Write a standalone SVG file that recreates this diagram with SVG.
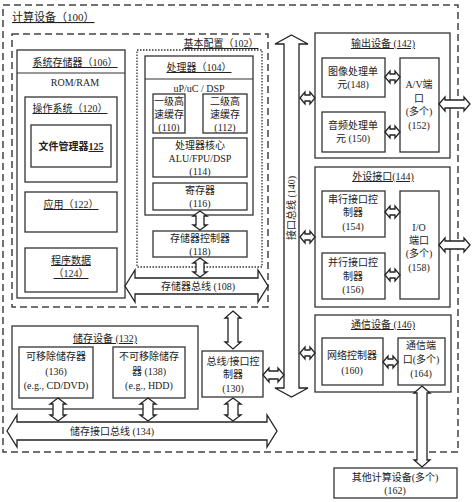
<svg xmlns="http://www.w3.org/2000/svg" width="474" height="502" viewBox="0 0 474 502">
<style>
text{font-family:"Liberation Serif","Noto Sans CJK SC",serif;font-size:10px;fill:#222;text-anchor:middle}
.u{text-decoration:underline}
.box{fill:#fff;stroke:#333;stroke-width:1.3}
.dash{fill:none;stroke:#444;stroke-width:1.5;stroke-dasharray:7,4}
.dot{fill:none;stroke:#333;stroke-width:1.3;stroke-dasharray:1.5,1.5}
.arr{fill:#fff;stroke:#222;stroke-width:1.3;stroke-linejoin:miter}
</style>
<rect width="474" height="502" fill="#fff"/>
<g id="n100">
<rect class="dash" x="3" y="5" width="455" height="447"/>
<text class="u" x="12" y="21" style="text-anchor:start;font-size:11px">计算设备（100）</text>
</g>
<g id="n102">
<rect class="dash" x="12" y="34" width="256" height="273"/>
<text class="u" x="221" y="47">基本配置（102）</text>
</g>
<g id="n106">
<rect class="box" x="17" y="50" width="108" height="248"/>
<line x1="17" y1="73" x2="125" y2="73" stroke="#333" stroke-width="1.2"/>
<text class="u" x="75" y="66">系统存储器（106）</text>
<text x="75" y="86">ROM/RAM</text>
</g>
<g id="n120">
<rect class="box" x="25" y="97" width="92" height="85"/>
<text class="u" x="70" y="112">操作系统（120）</text>
</g>
<g id="n125">
<rect class="box" x="31" y="125" width="80" height="42"/>
<text x="71" y="150" style="font-weight:bold">文件管理器<tspan class="u">125</tspan></text>
</g>
<g id="n122">
<rect class="box" x="25" y="192" width="92" height="40"/>
<text class="u" x="71" y="208">应用（122）</text>
</g>
<g id="n124">
<rect class="box" x="25" y="248" width="92" height="44"/>
<text class="u" x="71" y="264">程序数据</text>
<text class="u" x="71" y="277">（124）</text>
</g>
<g id="cpuarea">
<rect class="dot" x="137" y="50" width="125" height="217"/>
</g>
<g id="n104">
<rect class="box" x="145" y="56" width="108" height="159"/>
<line x1="145" y1="79" x2="253" y2="79" stroke="#333" stroke-width="1.2"/>
<text class="u" x="199" y="71">处理器（104）</text>
<text x="199" y="92">uP/uC / DSP</text>
</g>
<g id="n110">
<rect class="box" x="153" y="94" width="32" height="39"/>
<text x="169" y="105">一级高</text>
<text x="169" y="118">速缓存</text>
<text x="169" y="131">(110)</text>
</g>
<g id="n112">
<rect class="box" x="203" y="94" width="44" height="39"/>
<text x="225" y="105">二级高</text>
<text x="225" y="118">速缓存</text>
<text x="225" y="131">(112)</text>
</g>
<g id="n114">
<rect class="box" x="153" y="138" width="94" height="39"/>
<text x="200" y="149">处理器核心</text>
<text x="200" y="162">ALU/FPU/DSP</text>
<text x="200" y="175">(114)</text>
</g>
<g id="n116">
<rect class="box" x="153" y="183" width="94" height="27"/>
<text x="200" y="194">寄存器</text>
<text x="200" y="207">(116)</text>
</g>
<g id="n118">
<rect class="box" x="153" y="231" width="94" height="26"/>
<text x="200" y="242">存储器控制器</text>
<text x="200" y="255">(118)</text>
</g>
<g id="n142">
<rect class="box" x="315" y="33" width="135" height="125"/>
<text class="u" x="383" y="47">输出设备 (142)</text>
</g>
<g id="n148">
<rect class="box" x="322" y="58" width="63" height="39"/>
<text x="353" y="75">图像处理单</text>
<text x="353" y="88">元(148)</text>
</g>
<g id="n150">
<rect class="box" x="322" y="112" width="63" height="40"/>
<text x="353" y="129">音频处理单</text>
<text x="353" y="142">元 (150)</text>
</g>
<g id="n152">
<rect class="box" x="400" y="58" width="39" height="94"/>
<text x="419" y="88">A/V端</text>
<text x="419" y="102">口</text>
<text x="419" y="115">(多个)</text>
<text x="419" y="129">(152)</text>
</g>
<g id="n144">
<rect class="box" x="315" y="167" width="135" height="140"/>
<text class="u" x="383" y="180">外设接口(144)</text>
</g>
<g id="n154">
<rect class="box" x="322" y="191" width="63" height="46"/>
<text x="353" y="203">串行接口控</text>
<text x="353" y="216">制器</text>
<text x="353" y="230">(154)</text>
</g>
<g id="n156">
<rect class="box" x="322" y="253" width="63" height="46"/>
<text x="353" y="266">并行接口控</text>
<text x="353" y="280">制器</text>
<text x="353" y="293">(156)</text>
</g>
<g id="n158">
<rect class="box" x="400" y="191" width="39" height="108"/>
<text x="419" y="231">I/O</text>
<text x="419" y="244">端口</text>
<text x="419" y="257">(多个)</text>
<text x="419" y="271">(158)</text>
</g>
<g id="n146">
<rect class="box" x="315" y="315" width="136" height="77"/>
<text class="u" x="383" y="328">通信设备 (146)</text>
</g>
<g id="n160">
<rect class="box" x="322" y="338" width="61" height="47"/>
<text x="352" y="359">网络控制器</text>
<text x="352" y="374">(160)</text>
</g>
<g id="n164">
<rect class="box" x="398" y="338" width="47" height="47"/>
<text x="421" y="349">通信端</text>
<text x="421" y="363">口(多个)</text>
<text x="421" y="377">(164)</text>
</g>
<g id="n162">
<rect class="box" x="334" y="468" width="123" height="30"/>
<text x="395" y="481">其他计算设备(多个)</text>
<text x="395" y="494">(162)</text>
</g>
<g id="n132">
<rect class="box" x="12" y="326" width="186" height="83"/>
<text class="u" x="105" y="342">储存设备 (132)</text>
</g>
<g id="n136">
<rect class="box" x="19" y="347" width="74" height="51"/>
<text x="56" y="360">可移除储存器</text>
<text x="56" y="375">(136)</text>
<text x="56" y="389">(e.g., CD/DVD)</text>
</g>
<g id="n138">
<rect class="box" x="113" y="347" width="72" height="51"/>
<text x="149" y="360">不可移除储存</text>
<text x="149" y="375">器 (138)</text>
<text x="149" y="389">(e.g., HDD)</text>
</g>
<g id="n130">
<rect class="box" x="202" y="351" width="61" height="46"/>
<text x="233" y="365">总线/接口控</text>
<text x="233" y="378">制器</text>
<text x="233" y="392">(130)</text>
</g>
<g id="connectors">
<!-- memory bus 108 -->
<polygon class="arr" points="125,286 135,270 135,278 258,278 258,270 268,286 258,302 258,294 135,294 135,302"/>
<text x="198" y="290">存储器总线 (108)</text>
<!-- storage interface bus 134 -->
<polygon class="arr" points="7,431 17,415 17,422 267,422 267,415 277,431 267,447 267,440 17,440 17,447"/>
<text x="112" y="435">储存接口总线 (134)</text>
<!-- interface bus 140 -->
<polygon class="arr" points="291.5,35 308,44 299,44 299,388 308,388 291.5,397 275,388 284,388 284,44 275,44"/>
<text transform="translate(295,208) rotate(-90)">接口总线 (140)</text>
<!-- 116 <-> 118 -->
<polygon class="arr" points="200,211 207,216 204,216 204,225 207,225 200,230 193,225 196,225 196,216 193,216"/>
<!-- 118 <-> bus -->
<polygon class="arr" points="200,258 207,263 204,263 204,272 207,272 200,277 193,272 196,272 196,263 193,263"/>
<!-- bus 108 <-> 130 -->
<polygon class="arr" points="233,311 241,318 238,318 238,342 241,342 233,349 225,342 228,342 228,318 225,318"/>
<!-- 130 <-> 134 -->
<polygon class="arr" points="233,398 241,404 238,404 238,415 241,415 233,421 225,415 228,415 228,404 225,404"/>
<!-- 136 <-> 134 -->
<polygon class="arr" points="58,398 66,404 63,404 63,415 66,415 58,421 50,415 53,415 53,404 50,404"/>
<!-- 138 <-> 134 -->
<polygon class="arr" points="148,398 156,404 153,404 153,415 156,415 148,421 140,415 143,415 143,404 140,404"/>
<!-- 130 <-> 140 -->
<polygon class="arr" points="263,375 269,368 269,371 278,371 278,368 284,375 278,382 278,379 269,379 269,382"/>
<!-- 140 <-> 142 -->
<polygon class="arr" points="300,98 305,92 305,95 310,95 310,92 315,98 310,104 310,101 305,101 305,104"/>
<!-- 140 <-> 144 -->
<polygon class="arr" points="300,237 305,231 305,234 310,234 310,231 315,237 310,243 310,240 305,240 305,243"/>
<!-- 140 <-> 146 -->
<polygon class="arr" points="300,353 305,347 305,350 310,350 310,347 315,353 310,359 310,356 305,356 305,359"/>
<!-- 148 <-> 152 -->
<polygon class="arr" points="385,77 390,71 390,74 395,74 395,71 400,77 395,83 395,80 390,80 390,83"/>
<!-- 150 <-> 152 -->
<polygon class="arr" points="385,132 390,126 390,129 395,129 395,126 400,132 395,138 395,135 390,135 390,138"/>
<!-- 154 <-> 158 -->
<polygon class="arr" points="385,212 390,206 390,209 395,209 395,206 400,212 395,218 395,215 390,215 390,218"/>
<!-- 156 <-> 158 -->
<polygon class="arr" points="385,275 390,269 390,272 395,272 395,269 400,275 395,281 395,278 390,278 390,281"/>
<!-- 160 <-> 164 -->
<polygon class="arr" points="383,362 388,356 388,359 393,359 393,356 398,362 393,368 393,365 388,365 388,368"/>
<!-- 152 <-> outside -->
<polygon class="arr" points="439,104 445,97 445,100 464,100 464,97 470,104 464,111 464,108 445,108 445,111"/>
<!-- 158 <-> outside -->
<polygon class="arr" points="439,245 445,238 445,241 464,241 464,238 470,245 464,252 464,249 445,249 445,252"/>
<!-- 164 <-> 162 -->
<polygon class="arr" points="422,386 430,393 427,393 427,460 430,460 422,467 414,460 417,460 417,393 414,393"/>
</g>
</svg>
